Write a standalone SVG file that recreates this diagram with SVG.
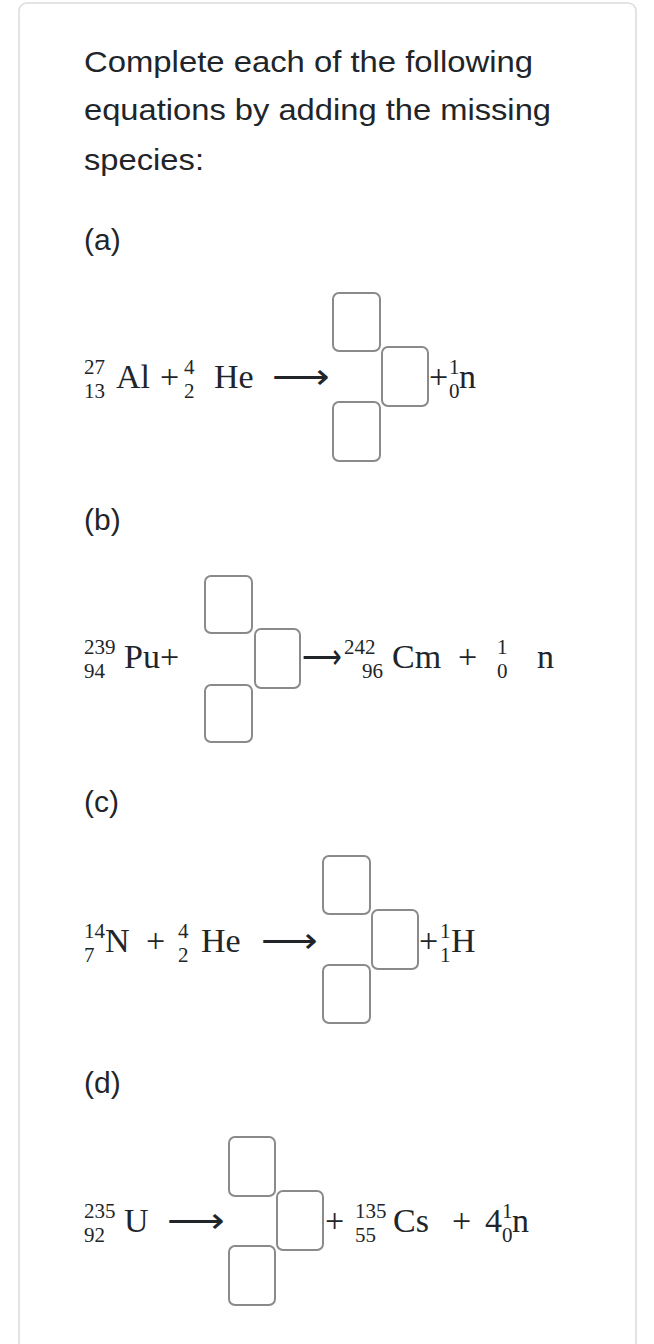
<svg xmlns="http://www.w3.org/2000/svg" width="654" height="1344" viewBox="0 0 654 1344">
<style>
.t{font-family:"Liberation Sans",Arial,sans-serif;font-size:30px;fill:#212529}
.m{font-family:"Liberation Serif","Times New Roman",serif;font-size:34px;fill:#212529}
.s{font-family:"Liberation Serif","Times New Roman",serif;font-size:21px;fill:#212529}
.b{fill:#fff;stroke:#8a8a8a;stroke-width:2}
</style>
<rect x="19" y="3" width="617" height="1350" rx="8" fill="#fff" stroke="#dcdcdc" stroke-width="1.5"/>
<g id="intro">
<text class="t" x="84" y="72" textLength="449" lengthAdjust="spacingAndGlyphs">Complete each of the following</text>
<text class="t" x="84" y="120" textLength="467" lengthAdjust="spacingAndGlyphs">equations by adding the missing</text>
<text class="t" x="84" y="170" textLength="120" lengthAdjust="spacingAndGlyphs">species:</text>
</g>
<g id="a">
<text class="t" x="84" y="250">(a)</text>
<text class="s" x="84" y="374">27</text><text class="s" x="84" y="398">13</text>
<text class="m" x="116" y="388">Al</text>
<text class="m" x="160" y="388">+</text>
<text class="s" x="184" y="374">4</text><text class="s" x="184" y="398">2</text>
<text class="m" x="214" y="388">He</text>
<text class="m" x="272" y="388" textLength="58" lengthAdjust="spacingAndGlyphs">⟶</text>
<rect class="b" x="333" y="293" width="47" height="58" rx="6"/>
<rect class="b" x="382" y="347" width="46" height="59" rx="6"/>
<rect class="b" x="333" y="402" width="47" height="59" rx="6"/>
<text class="m" x="429" y="388">+</text>
<text class="s" x="449" y="374">1</text><text class="s" x="449" y="398">0</text>
<text class="m" x="459" y="388">n</text>
</g>
<g id="b">
<text class="t" x="84" y="530">(b)</text>
<text class="s" x="84" y="654">239</text><text class="s" x="84" y="678">94</text>
<text class="m" x="124" y="668">Pu+</text>
<rect class="b" x="205" y="576" width="47" height="57" rx="6"/>
<rect class="b" x="255" y="629" width="45" height="59" rx="6"/>
<rect class="b" x="205" y="685" width="47" height="57" rx="6"/>
<text class="m" x="302" y="668" textLength="40" lengthAdjust="spacingAndGlyphs">⟶</text>
<text class="s" x="344" y="654">242</text><text class="s" x="362" y="678">96</text>
<text class="m" x="392" y="668">Cm</text>
<text class="m" x="458" y="668">+</text>
<text class="s" x="497" y="654">1</text><text class="s" x="497" y="678">0</text>
<text class="m" x="537" y="668">n</text>
</g>
<g id="c">
<text class="t" x="84" y="812">(c)</text>
<text class="s" x="84" y="938">14</text><text class="s" x="84" y="962">7</text>
<text class="m" x="105" y="952">N</text>
<text class="m" x="146" y="952">+</text>
<text class="s" x="178" y="938">4</text><text class="s" x="178" y="962">2</text>
<text class="m" x="201" y="952">He</text>
<text class="m" x="261" y="952" textLength="57" lengthAdjust="spacingAndGlyphs">⟶</text>
<rect class="b" x="323" y="856" width="47" height="58" rx="6"/>
<rect class="b" x="372" y="910" width="46" height="59" rx="6"/>
<rect class="b" x="323" y="965" width="47" height="58" rx="6"/>
<text class="m" x="419" y="952">+</text>
<text class="s" x="440" y="938">1</text><text class="s" x="440" y="962">1</text>
<text class="m" x="451" y="952">H</text>
</g>
<g id="d">
<text class="t" x="84" y="1093">(d)</text>
<text class="s" x="84" y="1218">235</text><text class="s" x="84" y="1242">92</text>
<text class="m" x="124" y="1232">U</text>
<text class="m" x="167" y="1232" textLength="58" lengthAdjust="spacingAndGlyphs">⟶</text>
<rect class="b" x="229" y="1137" width="46" height="59" rx="6"/>
<rect class="b" x="277" y="1191" width="46" height="59" rx="6"/>
<rect class="b" x="229" y="1246" width="46" height="59" rx="6"/>
<text class="m" x="325" y="1232">+</text>
<text class="s" x="355" y="1218">135</text><text class="s" x="355" y="1242">55</text>
<text class="m" x="393" y="1232">Cs</text>
<text class="m" x="452" y="1232">+</text>
<text class="m" x="485" y="1232">4</text>
<text class="s" x="502" y="1218">1</text><text class="s" x="502" y="1242">0</text>
<text class="m" x="512" y="1232">n</text>
</g>
</svg>
